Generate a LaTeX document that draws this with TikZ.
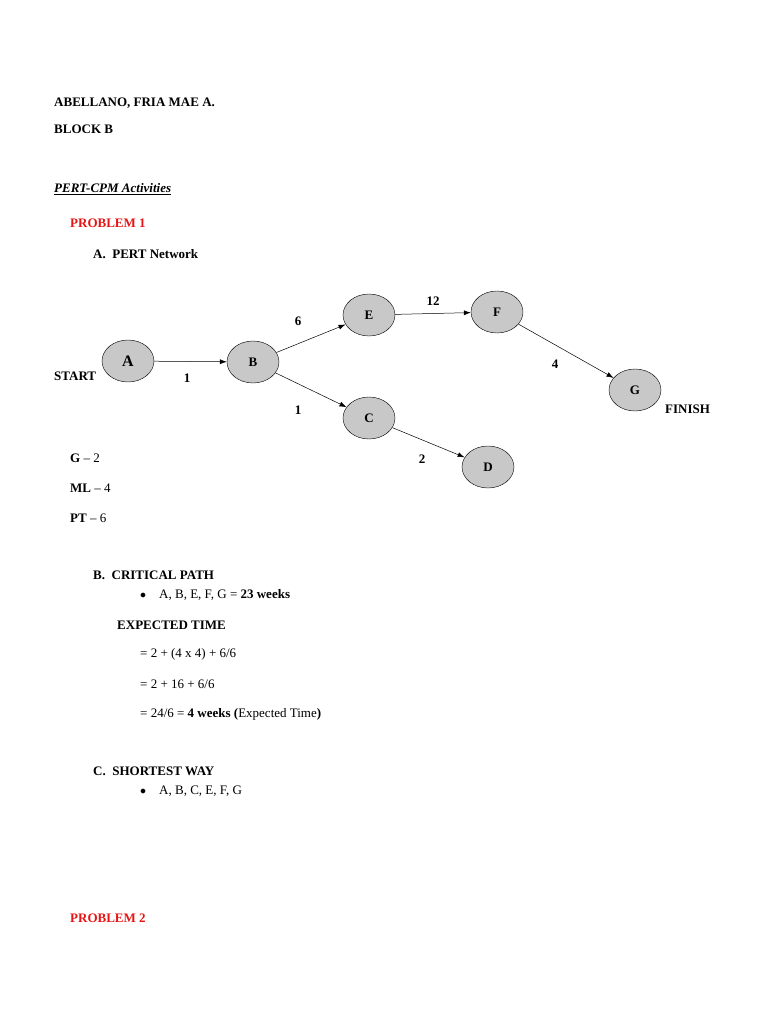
\documentclass[tikz,border=0pt]{standalone}
\usepackage{fontspec}
\setmainfont{Liberation Serif}
\usetikzlibrary{shapes.geometric,arrows.meta}
\definecolor{redtxt}{RGB}{230,20,20}
\definecolor{nodegray}{RGB}{200,200,200}
\begin{document}
\begin{tikzpicture}[x=1pt,y=-1pt,font=\fontsize{13}{15}\selectfont,
  ev/.style={ellipse,draw,fill=nodegray,minimum width=52pt,minimum height=42pt,inner sep=0pt,font=\fontsize{13}{15}\selectfont\bfseries},
  lbl/.style={anchor=west,inner sep=0pt},
  arr/.style={-{Latex[length=7pt,width=5pt]},line width=0.5pt}]
\useasboundingbox (0,0) rectangle (768,1024);
\node[lbl,font=\fontsize{13}{15}\selectfont\bfseries] (t1) at (54,103) {ABELLANO, FRIA MAE A.};
\node[lbl,font=\fontsize{13}{15}\selectfont\bfseries] (t2) at (54,129) {BLOCK B};
\node[lbl,font=\fontsize{13}{15}\selectfont\bfseries\itshape] (t3) at (54,189) {\underline{PERT-CPM Activities}};
\node[lbl,font=\fontsize{13}{15}\selectfont\bfseries,text=redtxt] (p1) at (70,223) {PROBLEM 1};
\node[lbl,font=\fontsize{13}{15}\selectfont\bfseries] (pa) at (93,254) {A.\ \ PERT Network};
\node[ev,font=\fontsize{16}{18}\selectfont\bfseries] (A) at (128,361) {A};
\node[ev] (B) at (253,362) {B};
\node[ev] (E) at (369,315) {E};
\node[ev] (F) at (497,312) {F};
\node[ev] (C) at (369,418) {C};
\node[ev] (D) at (488,467) {D};
\node[ev] (G) at (635,390) {G};
\draw[arr] (A) -- (B);
\draw[arr] (B) -- (E);
\draw[arr] (E) -- (F);
\draw[arr] (F) -- (G);
\draw[arr] (B) -- (C);
\draw[arr] (C) -- (D);
\begin{scope}[every node/.style={font=\fontsize{13}{15}\selectfont\bfseries}]
\node (l1) at (187,378) {1};
\node (l2) at (298,321) {6};
\node (l3) at (433,301) {12};
\node (l4) at (555,364) {4};
\node (l5) at (298,410) {1};
\node (l6) at (422,459) {2};
\node[lbl] (st) at (54,376) {START};
\node[lbl] (fi) at (665,409) {FINISH};
\end{scope}
\node[lbl] (g) at (70,458) {\textbf{G} -- 2};
\node[lbl] (ml) at (70,488) {\textbf{ML} -- 4};
\node[lbl] (pt) at (70,518) {\textbf{PT} -- 6};
\node[lbl,font=\fontsize{13}{15}\selectfont\bfseries] (pb) at (93,575) {B.\ \ CRITICAL PATH};
\node[lbl] (b1) at (140,595) {$\bullet$\hspace{13pt}A, B, E, F, G = \textbf{23 weeks}};
\node[lbl,font=\fontsize{13}{15}\selectfont\bfseries] (et) at (117,625) {EXPECTED TIME};
\node[lbl] (e1) at (140,654) {= 2 + (4 x 4) + 6/6};
\node[lbl] (e2) at (140,684) {= 2 + 16 + 6/6};
\node[lbl] (e3) at (140,714) {= 24/6 = \textbf{4 weeks (}Expected Time\textbf{)}};
\node[lbl,font=\fontsize{13}{15}\selectfont\bfseries] (pc) at (93,771) {C.\ \ SHORTEST WAY};
\node[lbl] (c1) at (140,791) {$\bullet$\hspace{13pt}A, B, C, E, F, G};
\node[lbl,font=\fontsize{13}{15}\selectfont\bfseries,text=redtxt] (p2) at (70,918) {PROBLEM 2};
\end{tikzpicture}
\end{document}
